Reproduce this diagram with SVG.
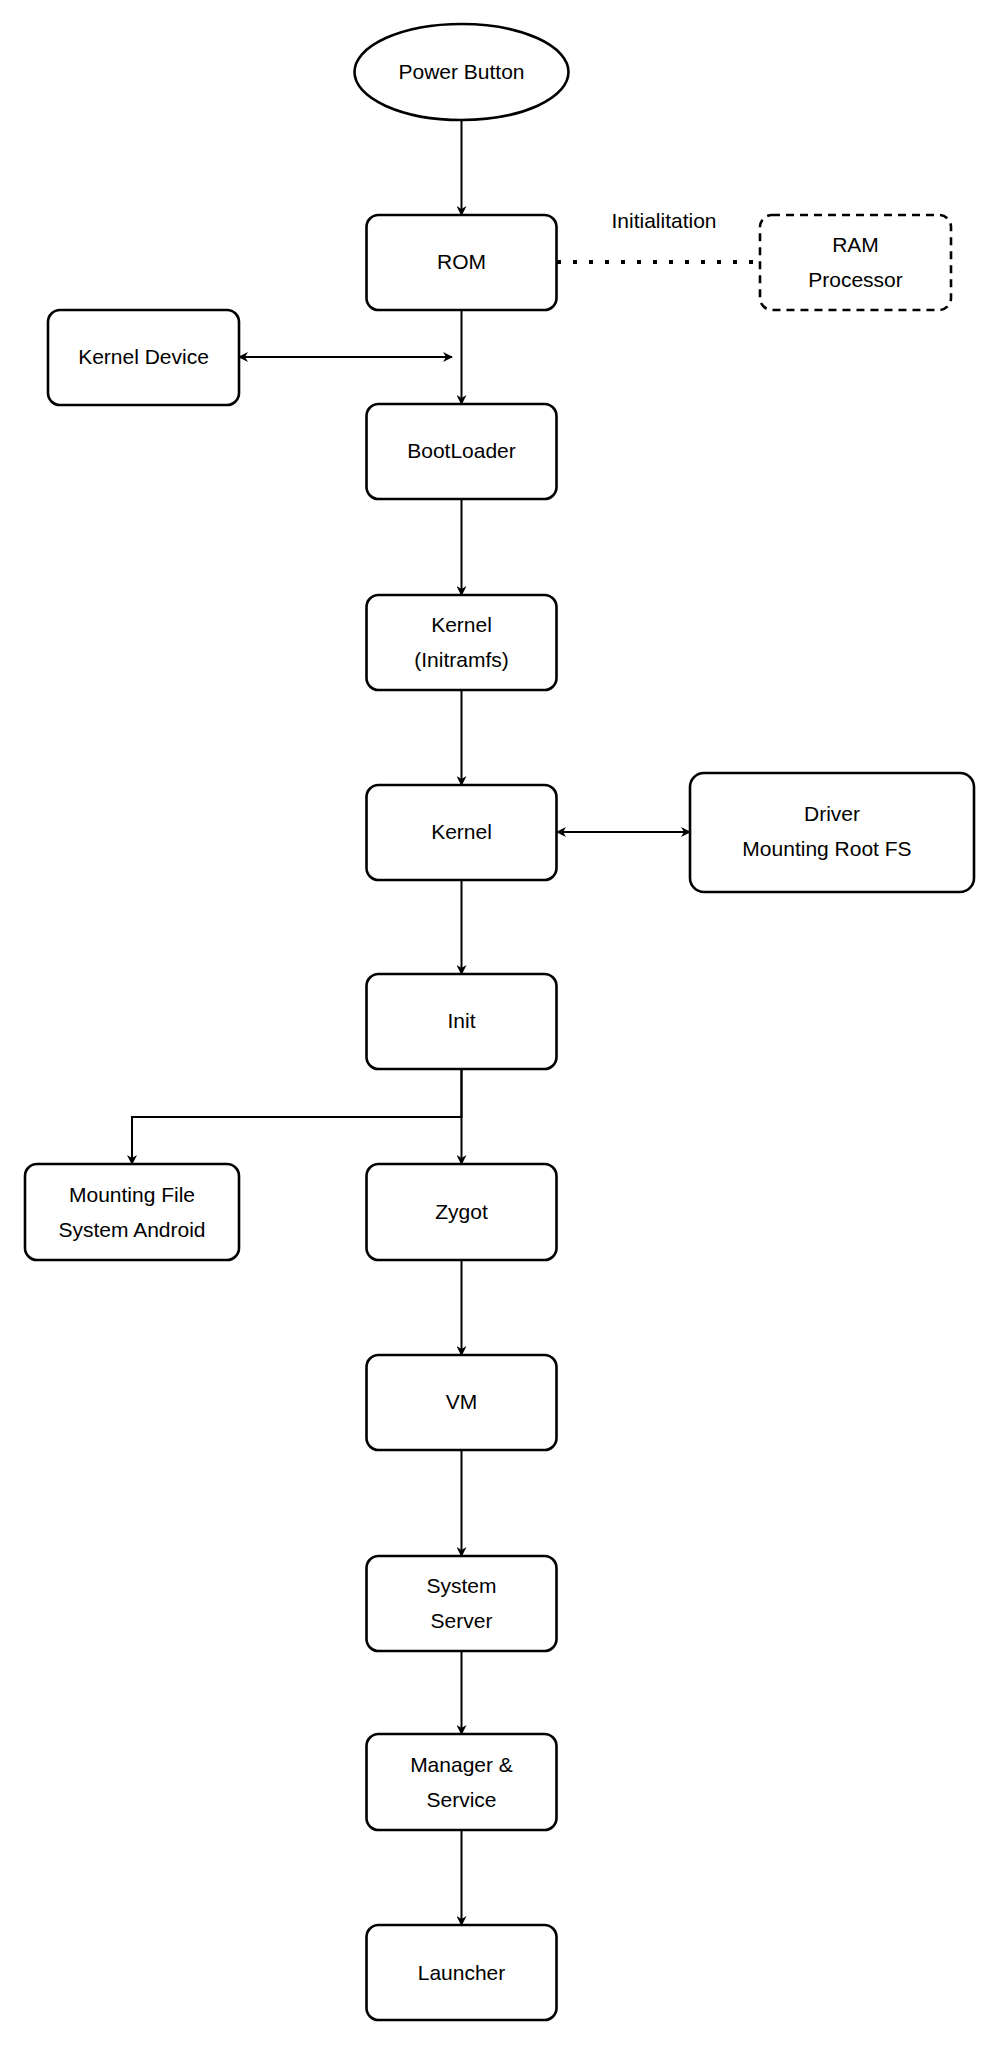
<svg xmlns="http://www.w3.org/2000/svg" width="1001" height="2048" viewBox="0 0 1001 2048">
<style>
.n{fill:#fff;stroke:#000;stroke-width:2.6}
.d{stroke-dasharray:8 6}
.t{font-family:"Liberation Sans",Arial,sans-serif;font-size:21px;text-anchor:middle;fill:#000}
.c{fill:none;stroke:#000;stroke-width:2}
</style>
<defs>
<marker id="a" viewBox="0 0 10 10" refX="9" refY="5" markerWidth="10" markerHeight="10" markerUnits="userSpaceOnUse" orient="auto-start-reverse"><path d="M0,0 L10,5 L0,10 L3,5 Z" fill="#000"/></marker>
</defs>
<rect width="1001" height="2048" fill="#fff"/>
<g id="connectors">
<path class="c" d="M461.5,120 V215" marker-end="url(#a)" style="stroke-width:2"/>
<path class="c" d="M461.5,310 V404" marker-end="url(#a)"/>
<path class="c" d="M239,357 H452" marker-start="url(#a)" marker-end="url(#a)"/>
<path class="c" d="M557,262 H760" style="stroke-width:4;stroke-dasharray:4 12"/>
<path class="c" d="M461.5,499 V595" marker-end="url(#a)"/>
<path class="c" d="M461.5,690 V785" marker-end="url(#a)"/>
<path class="c" d="M557,832 H690" marker-start="url(#a)" marker-end="url(#a)"/>
<path class="c" d="M461.5,880 V974" marker-end="url(#a)"/>
<path class="c" d="M461.5,1069 V1164" marker-end="url(#a)"/>
<path class="c" d="M461.5,1069 V1117 H132 V1164" marker-end="url(#a)"/>
<path class="c" d="M461.5,1260 V1355" marker-end="url(#a)"/>
<path class="c" d="M461.5,1450 V1556" marker-end="url(#a)"/>
<path class="c" d="M461.5,1651 V1734" marker-end="url(#a)"/>
<path class="c" d="M461.5,1830 V1925" marker-end="url(#a)"/>
<text class="t" x="664" y="228">Initialitation</text>
</g>
<g id="power"><ellipse class="n" cx="461.5" cy="72" rx="107" ry="48"/><text class="t" x="461.5" y="79">Power Button</text></g>
<g id="rom"><rect class="n" x="366.5" y="215" width="190" height="95" rx="12"/><text class="t" x="461.5" y="269">ROM</text></g>
<g id="ram"><rect class="n d" x="760" y="215" width="191" height="95" rx="12"/><text class="t" x="855.5" y="252">RAM</text><text class="t" x="855.5" y="287">Processor</text></g>
<g id="kdev"><rect class="n" x="48" y="310" width="191" height="95" rx="12"/><text class="t" x="143.5" y="364">Kernel Device</text></g>
<g id="boot"><rect class="n" x="366.5" y="404" width="190" height="95" rx="12"/><text class="t" x="461.5" y="458">BootLoader</text></g>
<g id="initramfs"><rect class="n" x="366.5" y="595" width="190" height="95" rx="12"/><text class="t" x="461.5" y="632">Kernel</text><text class="t" x="461.5" y="667">(Initramfs)</text></g>
<g id="kernel"><rect class="n" x="366.5" y="785" width="190" height="95" rx="12"/><text class="t" x="461.5" y="839">Kernel</text></g>
<g id="driver"><rect class="n" x="690" y="773" width="284" height="119" rx="14"/><text class="t" x="832" y="821">Driver</text><text class="t" x="827" y="856">Mounting Root FS</text></g>
<g id="init"><rect class="n" x="366.5" y="974" width="190" height="95" rx="12"/><text class="t" x="461.5" y="1028">Init</text></g>
<g id="mount"><rect class="n" x="25" y="1164" width="214" height="96" rx="12"/><text class="t" x="132" y="1202">Mounting File</text><text class="t" x="132" y="1237">System Android</text></g>
<g id="zygot"><rect class="n" x="366.5" y="1164" width="190" height="96" rx="12"/><text class="t" x="461.5" y="1219">Zygot</text></g>
<g id="vm"><rect class="n" x="366.5" y="1355" width="190" height="95" rx="12"/><text class="t" x="461.5" y="1409">VM</text></g>
<g id="sysserver"><rect class="n" x="366.5" y="1556" width="190" height="95" rx="12"/><text class="t" x="461.5" y="1593">System</text><text class="t" x="461.5" y="1628">Server</text></g>
<g id="manager"><rect class="n" x="366.5" y="1734" width="190" height="96" rx="12"/><text class="t" x="461.5" y="1772">Manager &amp;</text><text class="t" x="461.5" y="1807">Service</text></g>
<g id="launcher"><rect class="n" x="366.5" y="1925" width="190" height="95" rx="12"/><text class="t" x="461.5" y="1980">Launcher</text></g>
</svg>
